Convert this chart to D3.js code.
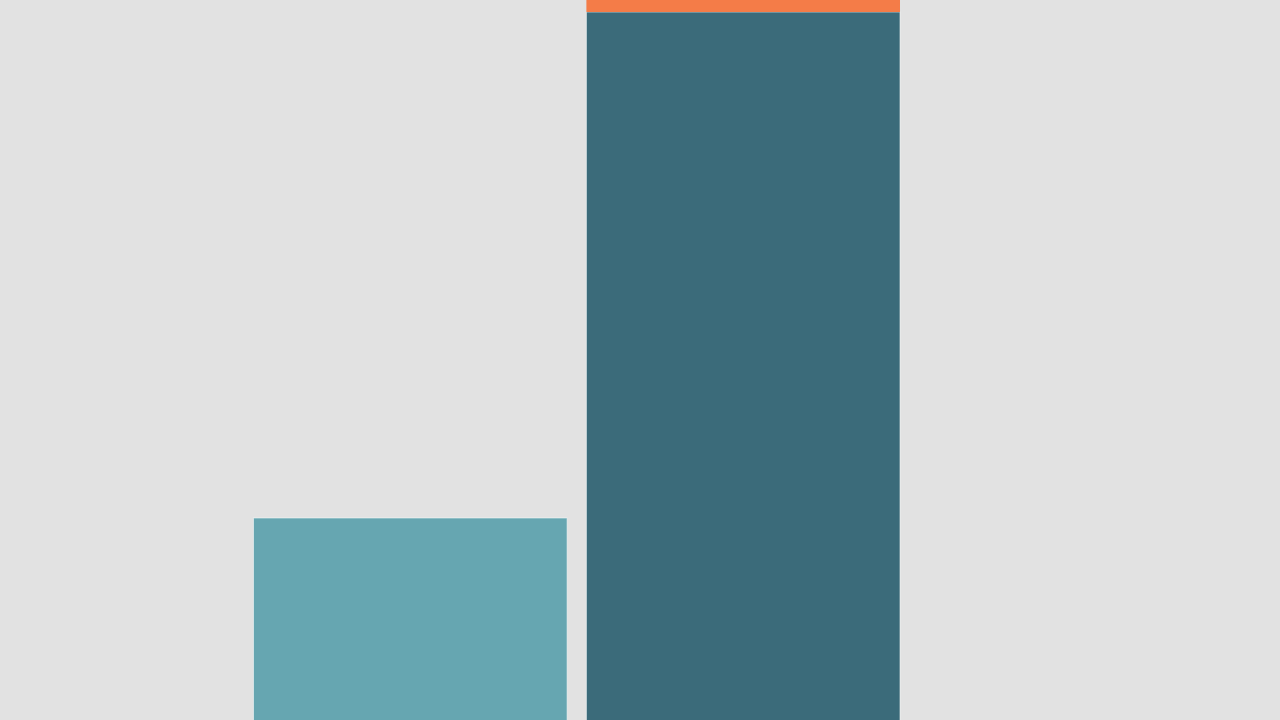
<!DOCTYPE html>
<html><head><meta charset="utf-8">
<script src="https://cdn.jsdelivr.net/npm/d3@7"></script>
<style>html,body{margin:0;padding:0;background:#e2e2e2;overflow:hidden}</style>
</head><body>
<svg id="c" width="1280" height="720"></svg>
<script>
const categories = ["A", "B"];
const seriesNames = ["base", "top"];
const baseValues = [204, 710];
const topValues = [0, 30];
const colorsA = ["#66a6b1", "#3b6b7a"];
const capColor = "#f47c48";

const svg = d3.select("#c");
svg.append("rect").attr("width",1280).attr("height",720).attr("fill","#e2e2e2");

const x = d3.scaleBand().domain(categories).range([253.5, 900]).paddingInner(0.058).paddingOuter(0);
const y = d3.scaleLinear().domain([0, 722]).range([722, 0]);

const rows = categories.map((c,i)=>({cat:c, base:baseValues[i], top:topValues[i]}));
const stacked = d3.stack().keys(seriesNames)(rows);

const g = svg.append("g");
stacked.forEach((layer, li) => {
  g.selectAll(null).data(layer).join("rect")
    .attr("x", d => x(d.data.cat))
    .attr("width", x.bandwidth())
    .attr("y", d => y(d[1]))
    .attr("height", d => y(d[0]) - y(d[1]))
    .attr("fill", (d,i) => li === 0 ? colorsA[i] : capColor)
    .attr("stroke", li === 0 ? "#f4f8f8" : "none")
    .attr("stroke-width", 1)
    .attr("stroke-opacity", 0.6);
});
</script>
</body></html>
